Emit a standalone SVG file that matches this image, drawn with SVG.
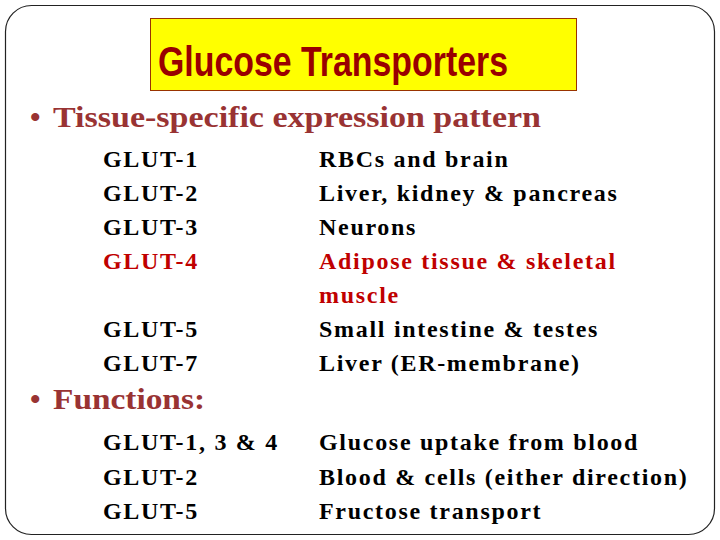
<svg xmlns="http://www.w3.org/2000/svg" width="720" height="540" viewBox="0 0 720 540">
<style>
.h{font-family:"Liberation Serif",serif;font-size:30px;font-weight:bold;fill:#993333}
.t{font-family:"Liberation Serif",serif;font-size:24px;font-weight:bold;letter-spacing:1.7px;fill:#000}
.r{fill:#C00000}
</style>
<rect width="720" height="540" fill="#fff"/>
<rect x="5.5" y="5.5" width="709" height="529" rx="26" fill="none" stroke="#222" stroke-width="1.2"/>
<g id="title">
<rect x="150.5" y="18.5" width="426" height="72" fill="#FFFF00" stroke="#993300" stroke-width="1"/>
<text x="158" y="76" font-family="'Liberation Sans Narrow','Liberation Sans',sans-serif" font-weight="bold" font-size="43" fill="#990000" textLength="350" lengthAdjust="spacingAndGlyphs">Glucose Transporters</text>
</g>
<g id="tissue">
<text x="30" y="127" class="h">•</text>
<text x="53" y="127" class="h" textLength="488" lengthAdjust="spacingAndGlyphs">Tissue-specific expression pattern</text>
<text class="t" x="103" y="167">GLUT-1</text><text class="t" x="319" y="167">RBCs and brain</text>
<text class="t" x="103" y="201">GLUT-2</text><text class="t" x="319" y="201">Liver, kidney &amp; pancreas</text>
<text class="t" x="103" y="235">GLUT-3</text><text class="t" x="319" y="235">Neurons</text>
<text class="t r" x="103" y="269">GLUT-4</text><text class="t r" x="319" y="269">Adipose tissue &amp; skeletal</text>
<text class="t r" x="319" y="303">muscle</text>
<text class="t" x="103" y="337">GLUT-5</text><text class="t" x="319" y="337">Small intestine &amp; testes</text>
<text class="t" x="103" y="371">GLUT-7</text><text class="t" x="319" y="371">Liver (ER-membrane)</text>
</g>
<g id="functions">
<text x="30" y="409" class="h">•</text>
<text x="53" y="409" class="h" textLength="152" lengthAdjust="spacingAndGlyphs">Functions:</text>
<text class="t" x="103" y="450">GLUT-1, 3 &amp; 4</text><text class="t" x="319" y="450">Glucose uptake from blood</text>
<text class="t" x="103" y="485">GLUT-2</text><text class="t" x="319" y="485">Blood &amp; cells (either direction)</text>
<text class="t" x="103" y="519">GLUT-5</text><text class="t" x="319" y="519">Fructose transport</text>
</g>
</svg>
